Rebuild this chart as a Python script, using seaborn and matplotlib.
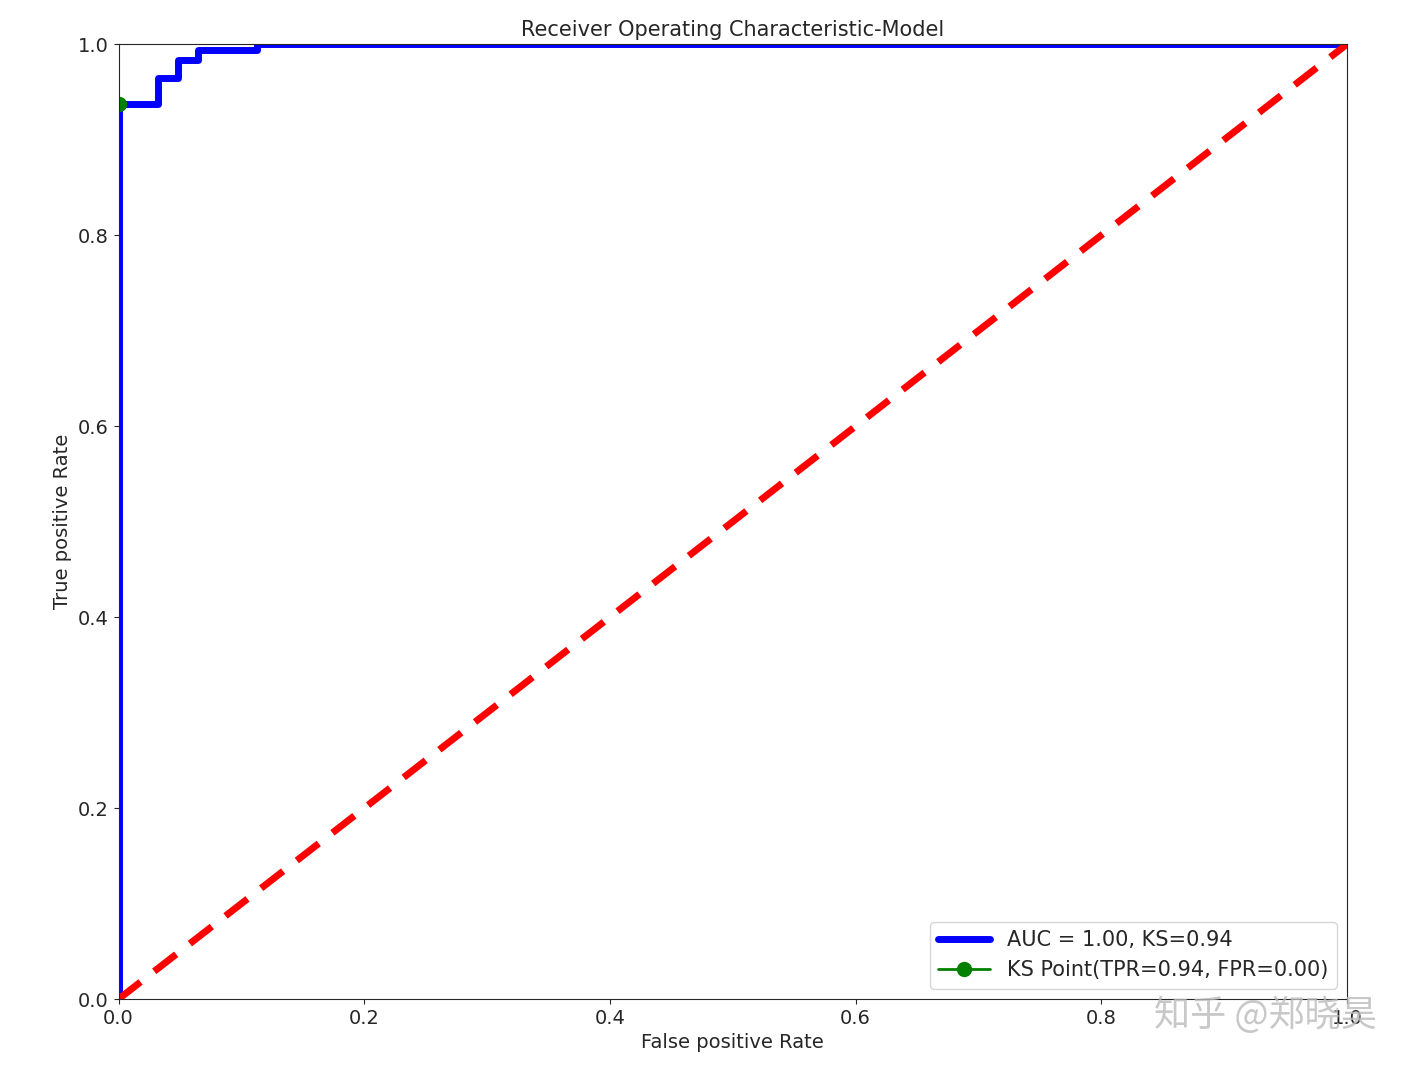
import matplotlib
matplotlib.use("Agg")
import matplotlib.pyplot as plt
import seaborn as sns
import pandas as pd

sns.set_style("ticks")
plt.rcParams["font.family"] = ["DejaVu Sans", "Noto Sans CJK SC"]

# ROC curve points
fpr = [0.0, 0.0, 0.032, 0.032, 0.048, 0.048, 0.065, 0.065, 0.113, 0.113, 1.0]
tpr = [0.0, 0.937, 0.937, 0.965, 0.965, 0.983, 0.983, 0.994, 0.994, 1.0, 1.0]
ks_fpr = [0.0]
ks_tpr = [0.937]
diag = [0.0, 1.0]

roc = pd.DataFrame({"fpr": fpr, "tpr": tpr})

fig = plt.figure(figsize=(14.12, 10.77), dpi=100)
ax = fig.add_axes([0.084, 0.0724, 0.87, 0.8866])

ax.plot(roc["fpr"], roc["tpr"], color="blue", lw=5, label="AUC = 1.00, KS=0.94")
ax.plot(diag, diag, color="red", lw=5, ls="--", dashes=(4, 2.5))
ax.plot(ks_fpr, ks_tpr, color="green", marker="o", markersize=10, lw=2,
        label="KS Point(TPR=0.94, FPR=0.00)")
ax.plot([0, 0], [0, 0.937], color="navy", lw=3, zorder=1)

ax.set_xlim(0, 1)
ax.set_ylim(0, 1)
ax.set_title("Receiver Operating Characteristic-Model", fontsize=15)
ax.set_xlabel("False positive Rate", fontsize=14)
ax.set_ylabel("True positive Rate", fontsize=14)
ax.tick_params(labelsize=14)
for s in ax.spines.values():
    s.set_visible(True)
leg = ax.legend(loc="lower right", fontsize=15, handlelength=2.5)

fig.text(0.975, 0.04, "知乎 @郑晓昊", fontsize=26, color="#bbbbbb", alpha=0.8,
         ha="right", va="bottom", family=["Noto Sans CJK SC", "DejaVu Sans"])

fig.savefig("out.png", dpi=100)
